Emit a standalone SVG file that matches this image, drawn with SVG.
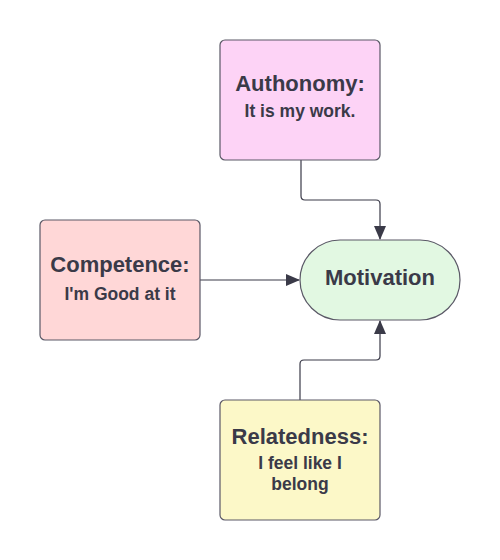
<svg xmlns="http://www.w3.org/2000/svg" width="500" height="560" viewBox="0 0 500 560">
<defs>
<style>
.box{stroke:#5a5866;stroke-width:1.2}
.t1{font-family:"Liberation Sans",Arial,sans-serif;font-weight:bold;font-size:22px;fill:#3a3a48;text-anchor:middle}
.t2{font-family:"Liberation Sans",Arial,sans-serif;font-weight:bold;font-size:17.5px;fill:#3a3a48;text-anchor:middle}
.c{fill:none;stroke:#3a3a48;stroke-width:1.2}
</style>
<marker id="ah" markerWidth="14" markerHeight="12" refX="13" refY="6" orient="auto" markerUnits="userSpaceOnUse">
<path d="M0,0 L14,6 L0,12 Z" fill="#3a3a48"/>
</marker>
</defs>
<rect width="500" height="560" fill="#ffffff"/>
<g id="connectors">
<path class="c" d="M301,160 V196 Q301,200 305,200 H376 Q380,200 380,204 V239" marker-end="url(#ah)"/>
<path class="c" d="M200,280 H299" marker-end="url(#ah)"/>
<path class="c" d="M300,400 V364 Q300,360 304,360 H376 Q380,360 380,356 V321" marker-end="url(#ah)"/>
</g>
<g id="authonomy">
<rect class="box" x="220" y="40" width="160" height="120" rx="5" fill="#fdd3f6"/>
<text class="t1" x="300" y="91">Authonomy:</text>
<text class="t2" x="300" y="117">It is my work.</text>
</g>
<g id="competence">
<rect class="box" x="40" y="220" width="160" height="120" rx="5" fill="#ffd7d7"/>
<text class="t1" x="120" y="272">Competence:</text>
<text class="t2" x="120" y="300">I'm Good at it</text>
</g>
<g id="motivation">
<rect class="box" x="300" y="240" width="160" height="80" rx="40" fill="#e2f8e2"/>
<text class="t1" x="380" y="285">Motivation</text>
</g>
<g id="relatedness">
<rect class="box" x="220" y="400" width="160" height="120" rx="5" fill="#fcf8c8"/>
<text class="t1" x="300" y="444">Relatedness:</text>
<text class="t2" x="300" y="469">I feel like I</text>
<text class="t2" x="300" y="490">belong</text>
</g>
</svg>
